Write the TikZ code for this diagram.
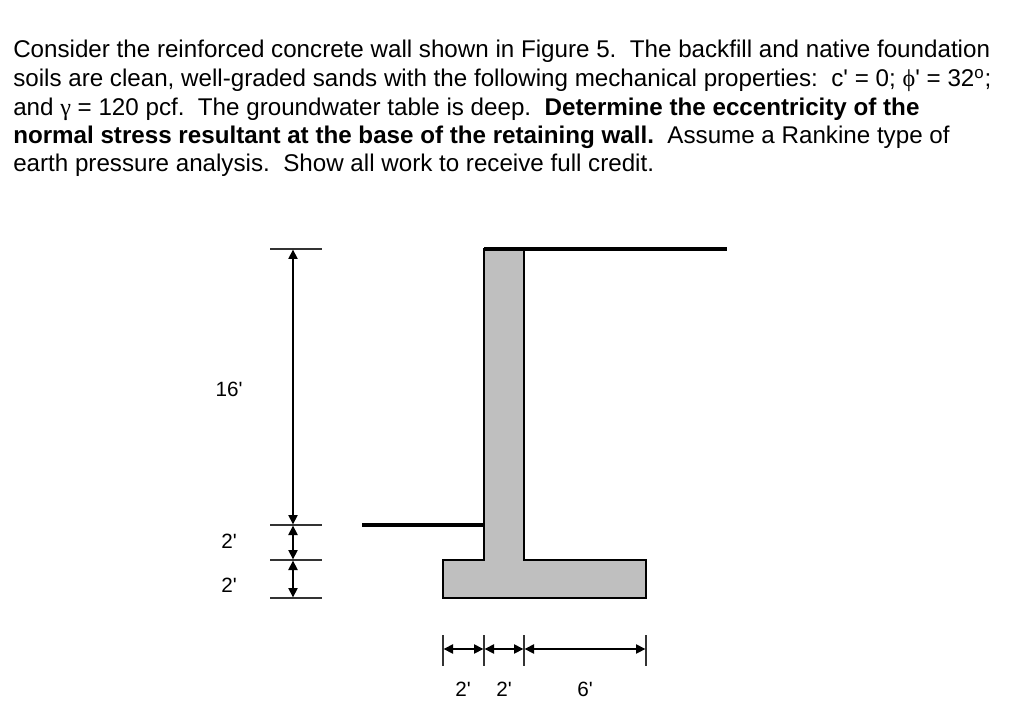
\documentclass[tikz,border=0pt]{standalone}
\usepackage{fontspec}
\setmainfont{Liberation Sans}
\newfontfamily\greekfont{Liberation Serif}
\usetikzlibrary{arrows.meta}
\newcommand{\ft}{\textquotesingle}
\begin{document}
\begin{tikzpicture}
  [x=0.75pt,y=-0.75pt,
    textline/.style={anchor=base west,inner sep=0pt,font=\fontsize{18.13pt}{21pt}\selectfont},
    dimlabel/.style={inner sep=0pt,font=\fontsize{15.5pt}{18pt}\selectfont},
    dimline/.style={line width=1.2pt,draw=black!80},
    dimarrow/.style={line width=1pt,{Triangle[length=7pt,width=7pt]}-{Triangle[length=7pt,width=7pt]},shorten <=0.5pt,shorten >=0.5pt},
    ground/.style={line width=2.4pt}]
  \useasboundingbox (0,0) rectangle (1012,716);

  % problem statement
  \node[textline] (line1) at (13,58) {Consider the reinforced concrete wall shown in Figure 5.\ \ The backfill and native foundation};
  \node[textline] (line2) at (13,87) {soils are clean, well-graded sands with the following mechanical properties:\ \ c\ft{} = 0; {\greekfont ϕ}\ft{} = 32\textsuperscript{o};};
  \node[textline] (line3) at (13,115.5) {and {\greekfont γ} = 120 pcf.\ \ The groundwater table is deep.\ \ \textbf{Determine the eccentricity of the}};
  \node[textline] (line4) at (13,144) {\textbf{normal stress resultant at the base of the retaining wall.}\ \ Assume a Rankine type of};
  \node[textline] (line5) at (13,172) {earth pressure analysis.\ \ Show all work to receive full credit.};

  % wall outline
  \coordinate (walltopl) at (484,249);
  \coordinate (walltopr) at (524,249);
  \coordinate (heell) at (484,560);
  \coordinate (toel) at (443,560);
  \coordinate (toebot) at (443,598);
  \coordinate (heelbot) at (646,598);
  \coordinate (heeltop) at (646,560);
  \coordinate (stemr) at (524,560);
  \coordinate (soilr) at (727,249);
  \coordinate (soilfrontl) at (362,525);
  \coordinate (soilfrontr) at (484,525);

  \draw[line width=1.6pt,fill=black!25] (walltopl) -- (heell) -- (toel) -- (toebot) -- (heelbot)
    -- (heeltop) -- (stemr) -- (walltopr) -- cycle;
  \draw[ground] (walltopl) -- (soilr);
  \draw[ground] (soilfrontl) -- (soilfrontr);

  % vertical dimensions
  \foreach \name/\y in {a/249,b/525,c/560,d/598}
  {
    \coordinate (\name l) at (270,\y);
    \coordinate (\name r) at (322,\y);
    \coordinate (\name m) at (293,\y);
    \draw[dimline] (\name l) -- (\name r);
  }
  \draw[dimarrow] (am) -- (bm);
  \draw[dimarrow] (bm) -- (cm);
  \draw[dimarrow] (cm) -- (dm);

  \node[dimlabel] (dim16) at (229,389) {16\ft};
  \node[dimlabel] (dim2a) at (229,541) {2\ft};
  \node[dimlabel] (dim2b) at (229,585) {2\ft};

  % horizontal dimensions
  \foreach \name/\x in {p/443,q/484,r/524,s/646}
  {
    \coordinate (\name t) at (\x,635);
    \coordinate (\name b) at (\x,666);
    \coordinate (\name m) at (\x,649);
    \draw[dimline] (\name t) -- (\name b);
  }
  \draw[dimarrow] (pm) -- (qm);
  \draw[dimarrow] (qm) -- (rm);
  \draw[dimarrow] (rm) -- (sm);

  \node[dimlabel] (dim2c) at (463,689) {2\ft};
  \node[dimlabel] (dim2d) at (504,689) {2\ft};
  \node[dimlabel] (dim6) at (585,689) {6\ft};
\end{tikzpicture}
\end{document}
